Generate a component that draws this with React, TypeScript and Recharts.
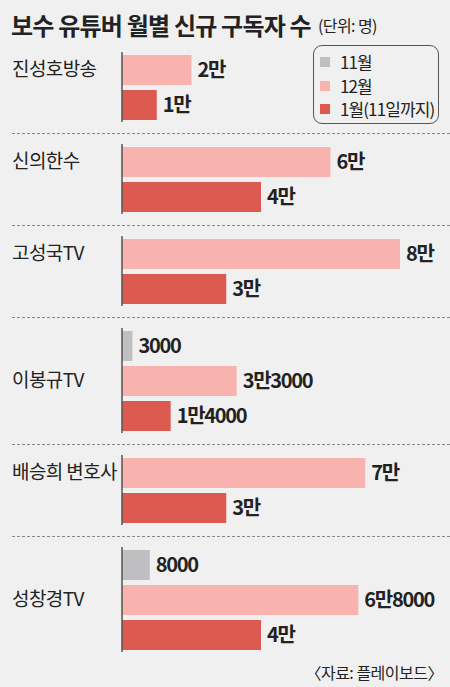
import React from 'react';
import { BarChart, Bar, XAxis, YAxis, Cell, LabelList } from 'recharts';

const channels = ['진성호방송', '신의한수', '고성국TV', '이봉규TV', '배승희 변호사', '성창경TV'];
const novValues: (number | null)[] = [null, null, null, 3000, null, 8000];
const decValues: (number | null)[] = [20000, 60000, 80000, 33000, 70000, 68000];
const janValues: (number | null)[] = [10000, 40000, 30000, 14000, 30000, 40000];
const seriesNames = ['11월', '12월', '1월(11일까지)'];
const seriesColors = ['#bfbfc1', '#f8b3ae', '#dd5a51'];

const TITLE = '보수 유튜버 월별 신규 구독자 수';
const UNIT = '(단위: 명)';
const SOURCE = '〈자료: 플레이보드〉';

const FONT = '"Noto Sans CJK KR", "Noto Sans", sans-serif';

const BAND = 35;
const PAD = 22;

function fmt(v: any) {
  const n = Number(v);
  if (!n) return '';
  const man = Math.floor(n / 10000);
  const rest = n % 10000;
  return `${man > 0 ? man + '만' : ''}${rest > 0 ? rest : ''}`;
}

type Row = { month: string; value: number; color: string; label: string };

function buildRows(i: number): Row[] {
  const vals = [novValues[i], decValues[i], janValues[i]];
  const rows: Row[] = [];
  vals.forEach((v, s) => {
    if (v != null) {
      rows.push({
        month: seriesNames[s],
        value: v,
        color: seriesColors[s],
        label: s === 1 ? channels[i] : '',
      });
    }
  });
  return rows;
}

function Group({ index }: { index: number }) {
  const rows = buildRows(index);
  const height = rows.length * BAND + PAD;
  const renderTick = (props: any) => {
    const { y, payload } = props;
    const row = rows[payload.index];
    if (!row || !row.label) return <g />;
    return (
      <text
        x={12}
        y={y}
        dy={6.5}
        textAnchor="start"
        fontFamily={FONT}
        fontSize={19}
        letterSpacing={-0.6}
        fill="#222"
      >
        {row.label}
      </text>
    );
  };
  return (
    <div style={{ position: 'relative', width: 450, height }}>
      {index > 0 && (
        <div
          style={{
            position: 'absolute',
            left: 12,
            top: 0,
            width: 438,
            borderTop: '1px dashed #8a8a8a',
          }}
        />
      )}
      <BarChart
        width={450}
        height={height}
        data={rows}
        layout="vertical"
        margin={{ top: 11, right: 50, bottom: 11, left: 0 }}
        barCategoryGap={5}
      >
        <XAxis type="number" domain={[0, 80000]} hide allowDataOverflow />
        <YAxis
          type="category"
          dataKey="month"
          width={122}
          tickLine={false}
          axisLine={{ stroke: '#555', strokeWidth: 1.5 }}
          tick={renderTick}
          interval={0}
        />
        <Bar dataKey="value" barSize={30} isAnimationActive={false}>
          {rows.map((r, k) => (
            <Cell key={k} fill={r.color} />
          ))}
          <LabelList
            dataKey="value"
            position="right"
            offset={6}
            formatter={fmt}
            style={{
              fill: '#222',
              fontSize: 20,
              fontWeight: 700,
              letterSpacing: -1.3,
              fontFamily: FONT,
            }}
          />
        </Bar>
      </BarChart>
    </div>
  );
}

export default function App() {
  return (
    <div
      style={{
        position: 'absolute',
        left: 0,
        top: 0,
        width: 450,
        height: 687,
        background: '#f0f0f0',
        fontFamily: FONT,
        color: '#222',
        overflow: 'hidden',
      }}
    >
      <div
        style={{
          position: 'absolute',
          left: 11,
          top: 7,
          fontSize: 24,
          fontWeight: 700,
          lineHeight: '36px',
          letterSpacing: -0.8,
          whiteSpace: 'nowrap',
        }}
      >
        {TITLE}
      </div>
      <div
        style={{
          position: 'absolute',
          left: 318,
          top: 13,
          fontSize: 16,
          lineHeight: '24px',
          letterSpacing: -0.6,
          whiteSpace: 'nowrap',
        }}
      >
        {UNIT}
      </div>
      <div style={{ position: 'absolute', left: 0, top: 41, width: 450 }}>
        {channels.map((_, i) => (
          <Group key={i} index={i} />
        ))}
      </div>
      <div
        style={{
          position: 'absolute',
          left: 313,
          top: 45,
          width: 124,
          height: 77,
          border: '1.5px solid #555',
          borderRadius: 9,
          background: '#f0f0f0',
          boxSizing: 'content-box',
        }}
      >
        {seriesNames.map((n, s) => (
          <div
            key={n}
            style={{
              position: 'absolute',
              left: 6,
              top: 5 + s * 23.5,
              height: 22,
              display: 'flex',
              alignItems: 'center',
              whiteSpace: 'nowrap',
            }}
          >
            <span
              style={{
                display: 'inline-block',
                width: 10,
                height: 10,
                background: seriesColors[s],
                marginRight: 10,
              }}
            />
            <span style={{ fontSize: 17, letterSpacing: -0.9, lineHeight: '22px' }}>{n}</span>
          </div>
        ))}
      </div>
      <div
        style={{
          position: 'absolute',
          right: 7,
          top: 660,
          fontSize: 16,
          lineHeight: '24px',
          letterSpacing: -0.5,
          whiteSpace: 'nowrap',
        }}
      >
        {SOURCE}
      </div>
    </div>
  );
}
